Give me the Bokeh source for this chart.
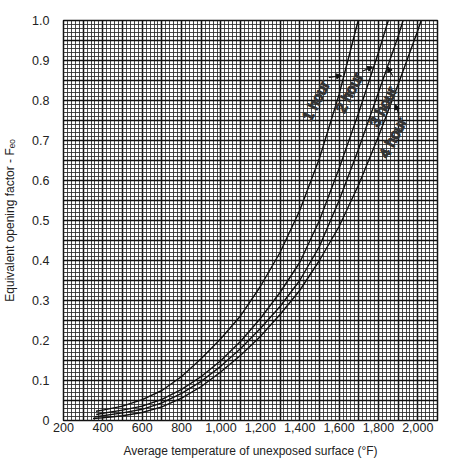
from bokeh.plotting import figure
from bokeh.models import FixedTicker, NumeralTickFormatter, Arrow, NormalHead
from bokeh.embed import file_html
from bokeh.resources import INLINE
from bokeh.core.properties import value
import numpy as np

# ---- data ----
t_1h = [365, 400, 500, 600, 700, 800, 900, 1000, 1100, 1200, 1300, 1400, 1500, 1600, 1697]
f_1h = [0.023, 0.026, 0.036, 0.052, 0.075, 0.110, 0.155, 0.205, 0.262, 0.335, 0.420, 0.525, 0.655, 0.815, 1.0]

t_2h = [366, 400, 500, 600, 700, 800, 900, 1000, 1100, 1200, 1300, 1400, 1500, 1600, 1700, 1800, 1850]
f_2h = [0.015, 0.018, 0.026, 0.036, 0.053, 0.078, 0.110, 0.150, 0.198, 0.255, 0.320, 0.395, 0.500, 0.630, 0.770, 0.920, 1.0]

t_3h = [358, 400, 500, 600, 700, 800, 900, 1000, 1100, 1200, 1300, 1400, 1500, 1600, 1700, 1800, 1900, 1925]
f_3h = [0.009, 0.012, 0.019, 0.028, 0.044, 0.068, 0.098, 0.136, 0.180, 0.230, 0.285, 0.350, 0.435, 0.550, 0.680, 0.820, 0.960, 1.0]

t_4h = [350, 400, 500, 600, 700, 800, 900, 1000, 1100, 1200, 1300, 1400, 1500, 1600, 1700, 1800, 1900, 2000, 2017]
f_4h = [0.005, 0.007, 0.012, 0.020, 0.034, 0.056, 0.085, 0.122, 0.163, 0.210, 0.265, 0.325, 0.400, 0.485, 0.590, 0.710, 0.840, 0.975, 1.0]

curve_labels = ["1 hour", "2 hour", "3 hour", "4 hour"]
x_ticks = [200, 400, 600, 800, 1000, 1200, 1400, 1600, 1800, 2000]
y_ticks = [round(i / 10, 1) for i in range(11)]

# annotation placement (label centres and arrow ends)
label_x = [1480, 1650, 1822, 1872]
label_y = [0.800, 0.820, 0.785, 0.707]
arrow_start = [(1548, 0.858), (1718, 0.873), (1872, 0.862), (1905, 0.765)]
arrow_end = [(1612, 0.862), (1770, 0.884), (1846, 0.884), (1885, 0.790)]

FONT = "Liberation Sans"

p = figure(width=442, height=460, x_range=(200, 2100), y_range=(0, 1.0),
           output_backend="svg", toolbar_location=None,
           min_border_left=57, min_border_right=5, min_border_top=20, min_border_bottom=40)

p.background_fill_color = "white"
p.outline_line_color = "#111111"
p.outline_line_width = 1.5

# graph-paper grid
p.xgrid.ticker = FixedTicker(ticks=list(range(200, 2101, 100)),
                             minor_ticks=list(range(200, 2101, 20)))
p.ygrid.ticker = FixedTicker(ticks=[round(i * 0.05, 2) for i in range(21)],
                             minor_ticks=[round(i * 0.01, 2) for i in range(101)])
for g in (p.xgrid, p.ygrid):
    g.grid_line_color = "#111111"
    g.grid_line_width = 1.5
    g.grid_line_alpha = 1.0
    g.minor_grid_line_color = "#2a2a2a"
    g.minor_grid_line_width = 1.0
    g.minor_grid_line_alpha = 0.85

# curves
for t, f in ((t_1h, f_1h), (t_2h, f_2h), (t_3h, f_3h), (t_4h, f_4h)):
    p.line(t, f, line_color="#111111", line_width=1.4)

# labels
p.text(x=label_x, y=label_y, text=curve_labels, angle=np.deg2rad(63),
       text_color="white", text_outline_color="#333333",
       text_font=value(FONT), text_font_size="15px",
       text_align="center", text_baseline="middle")
for (xs, ys), (xe, ye) in zip(arrow_start, arrow_end):
    p.add_layout(Arrow(x_start=xs, y_start=ys, x_end=xe, y_end=ye,
                       line_color="#111111", line_width=1.2,
                       end=NormalHead(size=5, fill_color="#111111", line_color="#111111")))

# axes
p.xaxis.ticker = FixedTicker(ticks=x_ticks)
p.xaxis.formatter = NumeralTickFormatter(format="0,0")
p.yaxis.ticker = FixedTicker(ticks=y_ticks)
p.yaxis.major_label_overrides = {0: "0", 1: "1.0"}
for ax in (p.xaxis, p.yaxis):
    ax.axis_line_color = None
    ax.major_tick_line_color = None
    ax.minor_tick_line_color = None
    ax.major_label_text_font = FONT
    ax.major_label_text_font_size = "12.5px"
    ax.major_label_text_color = "#222222"
    ax.axis_label_text_font = FONT
    ax.axis_label_text_font_size = "12px"
    ax.axis_label_text_font_style = "normal"
    ax.axis_label_text_color = "#222222"
p.xaxis.major_label_standoff = -4
p.yaxis.major_label_standoff = 8
p.xaxis.axis_label_standoff = 9
p.yaxis.axis_label_standoff = 12
p.xaxis.axis_label = "Average temperature of unexposed surface (°F)"
p.yaxis.axis_label = "Equivalent opening factor - Fₑₒ"

open("out.html", "w").write(file_html(p, INLINE))
